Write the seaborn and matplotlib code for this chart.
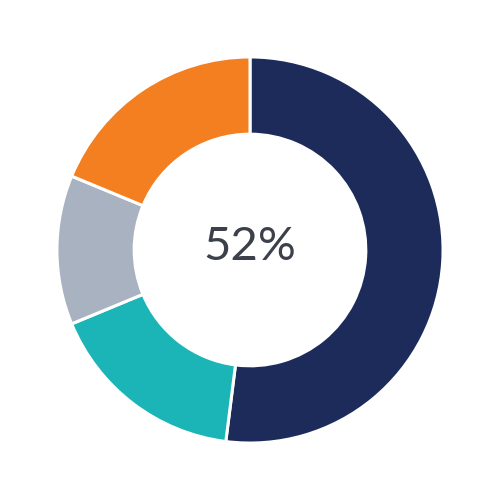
import matplotlib
matplotlib.use("Agg")
import matplotlib.pyplot as plt
import seaborn as sns

# Segment shares, clockwise from 12 o'clock
segments = ["Navy", "Teal", "Gray", "Orange"]
shares = [52, 16.75, 12.5, 18.75]
colors = ["#1c2b5a", "#1bb4b7", "#a8b2c1", "#f47f20"]
center_label = "52%"

sns.set_theme(style="white")
plt.rcParams["font.family"] = ["Lato", "DejaVu Sans"]

fig = plt.figure(figsize=(5, 5), dpi=100)
ax = fig.add_axes([0, 0, 1, 1])

ax.pie(shares, colors=colors, startangle=90, counterclock=False,
       radius=1.0,
       wedgeprops=dict(width=0.4, edgecolor="white", linewidth=2.2))

ax.text(0, 0.015, center_label, ha="center", va="center",
        fontsize=34, color="#3b404b")

lim = 1.295
ax.set_xlim(-lim, lim)
ax.set_ylim(-lim, lim)
ax.set_aspect("equal")
ax.axis("off")

fig.savefig("out.png", dpi=100, facecolor="white")
